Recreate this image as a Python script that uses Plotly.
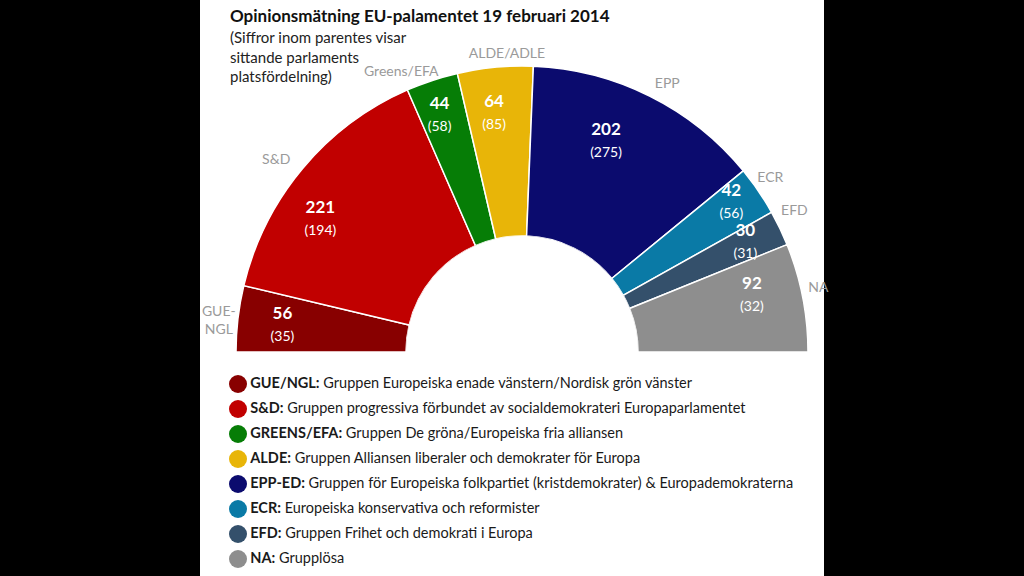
import plotly.graph_objects as go

# ---- data ----
groups = ["GUE/NGL", "S&D", "Greens/EFA", "ALDE", "EPP", "ECR", "EFD", "NA"]
outer_labels = ["GUE-<br>NGL", "S&D", "Greens/EFA", "ALDE/ADLE", "EPP", "ECR", "EFD", "NA"]
seats_poll = [56, 221, 44, 64, 202, 42, 30, 92]
seats_current = [35, 194, 58, 85, 275, 56, 31, 32]
colors = ["#880000", "#c10000", "#067d06", "#e8b508", "#0b0b6e", "#0a7aa6", "#34506b", "#8e8e8e"]
legend_keys = ["GUE/NGL:", "S&D:", "GREENS/EFA:", "ALDE:", "EPP-ED:", "ECR:", "EFD:", "NA:"]
legend_desc = [
    "Gruppen Europeiska enade vänstern/Nordisk grön vänster",
    "Gruppen progressiva förbundet av socialdemokrateri Europaparlamentet",
    "Gruppen De gröna/Europeiska fria alliansen",
    "Gruppen Alliansen liberaler och demokrater för Europa",
    "Gruppen för Europeiska folkpartiet (kristdemokrater) & Europademokraterna",
    "Europeiska konservativa och reformister",
    "Gruppen Frihet och demokrati i Europa",
    "Grupplösa",
]
title = "Opinionsmätning EU-palamentet 19 februari 2014"
subtitle = "(Siffror inom parentes visar<br>sittande parlaments<br>platsfördelning)"

# label placement tweaks (style only)
in_dtheta = [-0.5, -6.7, -0.9, -1.3, -4.7, -1.2, -0.4, -2.7]
in_r = [0.735, 0.735, 0.79, 0.73, 0.65, 0.83, 0.78, 0.71]
out_dtheta = [-1, -2, -5, 2.5, 2, -0.7, -1.6, -1]
out_r = [1.11, 1.15, 1.11, 1.07, 1.11, 1.10, 1.12, 1.10]

FONT = "Lato"

# geometry (pixels): centre, hole radius, ring outer radius, polar frame radius
CX, CY, R_HOLE, R_RING, R_FRAME = 522, 352, 116, 286, 330
r_max = (R_FRAME - R_HOLE) / (R_RING - R_HOLE)

total = sum(seats_poll)
widths = [180.0 * s / total for s in seats_poll]
mids = []
acc = 0.0
for w in widths:
    mids.append(acc + w / 2)
    acc += w

fig = go.Figure()

fig.add_trace(go.Barpolar(
    r=[1] * len(seats_poll), theta=mids, width=widths, base=0,
    marker=dict(color=colors, line=dict(color="white", width=1.5)),
    hoverinfo="skip", showlegend=False,
))

inner_text = [f"<b>{p}</b><br><span style='font-size:14px'>({c})</span>"
              for p, c in zip(seats_poll, seats_current)]
fig.add_trace(go.Scatterpolar(
    r=in_r, theta=[m + d for m, d in zip(mids, in_dtheta)], mode="text",
    text=inner_text, textfont=dict(family=FONT, size=17, color="white"),
    textposition="middle center", cliponaxis=False, showlegend=False, hoverinfo="skip",
))
fig.add_trace(go.Scatterpolar(
    r=out_r, theta=[m + d for m, d in zip(mids, out_dtheta)], mode="text",
    text=outer_labels, textfont=dict(family=FONT, size=14, color="#9a9a9a"),
    textposition="middle center", cliponaxis=False, showlegend=False, hoverinfo="skip",
))

# legend drawn as a scatter on its own axes
fig.add_trace(go.Scatter(
    x=[0] * len(groups), y=list(range(len(groups))), xaxis="x2", yaxis="y2",
    mode="markers+text",
    marker=dict(size=18, color=colors),
    text=[f"<b>{k}</b> {d}" for k, d in zip(legend_keys, legend_desc)],
    textposition="middle right",
    textfont=dict(family=FONT, size=14.5, color="#1a1a1a"),
    cliponaxis=False, showlegend=False, hoverinfo="skip",
))

fig.update_layout(
    width=1024, height=576,
    margin=dict(l=0, r=0, t=0, b=0),
    paper_bgcolor="black", plot_bgcolor="rgba(0,0,0,0)",
    polar=dict(
        domain=dict(x=[(CX - R_FRAME) / 1024, (CX + R_FRAME) / 1024],
                    y=[(576 - CY) / 576, (576 - CY + R_FRAME) / 576]),
        sector=[0, 180], hole=R_HOLE / R_FRAME, bgcolor="rgba(0,0,0,0)",
        radialaxis=dict(visible=False, range=[0, r_max]),
        angularaxis=dict(visible=False, rotation=180, direction="clockwise"),
    ),
    xaxis2=dict(domain=[0, 1], range=[-238, 786], visible=False, fixedrange=True),
    yaxis2=dict(domain=[0, 1], range=[7.68, -15.36], visible=False, fixedrange=True),
    shapes=[dict(type="rect", xref="paper", yref="paper", x0=200 / 1024, x1=824 / 1024,
                 y0=0, y1=1, fillcolor="white", line=dict(width=0), layer="below")],
    annotations=[
        dict(text=f"<b>{title}</b>", xref="paper", yref="paper", x=228 / 1024, y=1 - 3 / 576,
             xanchor="left", yanchor="top", showarrow=False,
             font=dict(family=FONT, size=17, color="#111")),
        dict(text=subtitle, xref="paper", yref="paper", x=228 / 1024, y=1 - 26 / 576,
             xanchor="left", yanchor="top", showarrow=False, align="left",
             font=dict(family=FONT, size=15, color="#222")),
    ],
)

fig.write_html("out.html")
